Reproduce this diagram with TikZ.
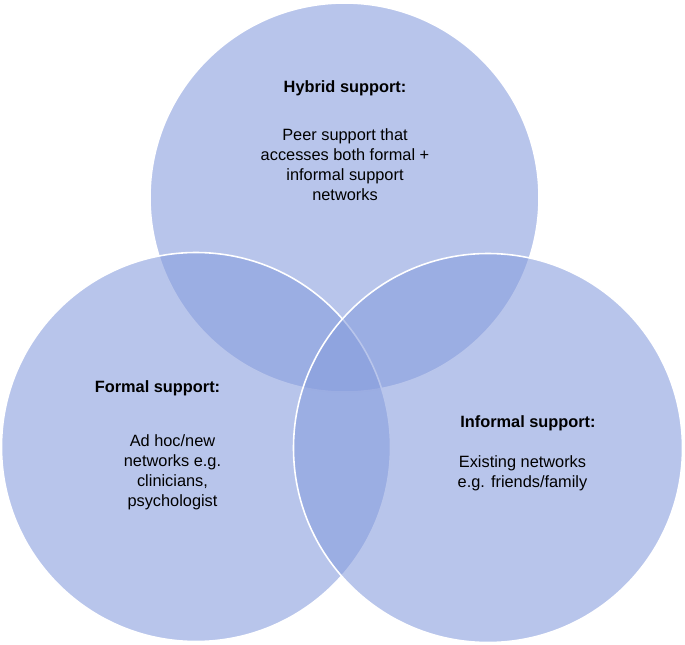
\documentclass[tikz,border=0pt]{standalone}
\usepackage{fontspec}
\setmainfont{Liberation Sans}
\usepackage{tikz}

\definecolor{vennblue}{RGB}{135,157,221}

\begin{document}
\begin{tikzpicture}[
    set/.style={draw=white, line width=0.9pt, circle, fill=vennblue, fill opacity=0.59, minimum size=7.78cm, inner sep=0pt},
    title/.style={align=center, font=\fontsize{9.3}{11.4}\selectfont\bfseries},
    body/.style={align=center, font=\fontsize{9.3}{11.4}\selectfont}
]
    \useasboundingbox (0,0) rectangle (13.7,-12.9);

    % Sets
    \node[set] (hybrid) at (6.89,-3.95) {};
    \node[set] (formal) at (3.92,-8.94) {};
    \node[set] (informal) at (9.76,-8.96) {};

    % Hybrid support
    \node[title] (hybrid_lbl) at (6.9,-1.76) {Hybrid support:};
    \node[body] (hybrid_txt) at (6.9,-3.3) {Peer support that\\accesses both formal +\\informal support\\networks};

    % Formal support
    \node[title] (formal_lbl) at (3.15,-7.76) {Formal support:};
    \node[body] (formal_txt) at (3.45,-9.44) {Ad hoc/new\\networks e.g.\\clinicians,\\psychologist};

    % Informal support
    \node[title] (informal_lbl) at (10.56,-8.46) {Informal support:};
    \node[body] (informal_txt) at (10.45,-9.46) {Existing networks\\e.g. friends/family};

\end{tikzpicture}
\end{document}
